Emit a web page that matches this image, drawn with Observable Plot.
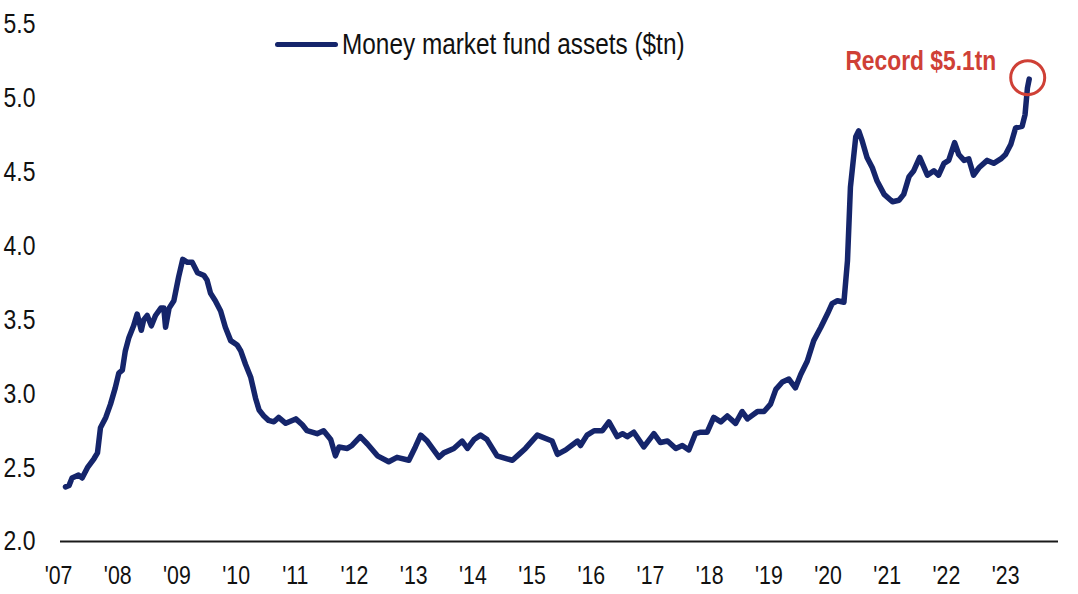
<!DOCTYPE html>
<html>
<head>
<meta charset="utf-8">
<script src="https://cdn.jsdelivr.net/npm/d3@7"></script>
<script src="https://cdn.jsdelivr.net/npm/@observablehq/plot@0.6"></script>
<style>
  html, body { margin: 0; padding: 0; background: #fff; }
  #wrap { position: relative; width: 1078px; height: 594px; font-family: "Liberation Sans", Arial, sans-serif; }
  #legend { position: absolute; left: 275px; top: 28px; height: 32px; display: flex; align-items: center; font-size: 29px; color: #111; white-space: nowrap; }
  #legend .sw { width: 63px; height: 5px; border-radius: 3px; background: #15256b; margin-right: 4px; flex: none; }
  #legend .txt { display: inline-block; transform: scaleX(0.84); transform-origin: 0 50%; }
</style>
</head>
<body>
<div id="wrap">
  <div id="chart"></div>
  <div id="legend"><span class="sw"></span><span class="txt">Money market fund assets ($tn)</span></div>
</div>
<script>
// Dates as decimal years, values in $tn
const dates = [2007.00,2007.06,2007.11,2007.22,2007.28,2007.37,2007.48,2007.54,2007.59,2007.68,2007.76,2007.84,2007.90,2007.96,
2008.01,2008.07,2008.15,2008.21,2008.28,2008.32,2008.38,2008.45,2008.52,2008.61,2008.66,2008.69,2008.75,2008.83,2008.91,2008.98,
2009.06,2009.14,2009.23,2009.34,2009.39,2009.45,2009.53,2009.62,2009.70,2009.79,2009.90,2009.96,
2010.04,2010.13,2010.21,2010.27,2010.35,2010.43,2010.52,2010.60,2010.72,2010.89,
2011.00,2011.08,2011.25,2011.36,2011.48,2011.56,2011.62,2011.76,2011.84,2011.98,
2012.10,2012.27,2012.46,2012.60,2012.80,2012.91,
2013.00,2013.11,2013.31,2013.39,2013.56,2013.70,2013.79,2013.90,
2014.01,2014.12,2014.29,2014.46,2014.55,2014.66,2014.77,2014.97,
2015.22,2015.31,2015.45,2015.65,2015.70,2015.81,2015.93,
2016.07,2016.18,2016.32,2016.41,2016.49,2016.60,2016.77,2016.94,
2017.05,2017.17,2017.31,2017.42,2017.53,2017.64,2017.73,2017.84,2017.95,
2018.07,2018.18,2018.32,2018.43,2018.52,2018.69,2018.80,2018.91,
2019.00,2019.11,2019.22,2019.33,2019.42,2019.53,2019.64,2019.76,2019.87,2019.95,
2020.04,2020.15,2020.21,2020.26,2020.35,2020.40,2020.46,2020.54,2020.63,2020.71,2020.83,2020.97,
2021.08,2021.16,2021.25,2021.33,2021.43,2021.56,2021.67,2021.75,2021.84,2021.92,
2022.02,2022.09,2022.18,2022.26,2022.34,2022.43,2022.57,2022.68,2022.80,2022.88,2022.97,
2023.05,2023.16,2023.21,2023.25,2023.28];
const assets = [2.37,2.38,2.43,2.45,2.43,2.50,2.56,2.60,2.77,2.84,2.93,3.04,3.14,3.16,
3.29,3.38,3.46,3.54,3.43,3.50,3.53,3.46,3.53,3.58,3.58,3.45,3.58,3.63,3.79,3.91,
3.89,3.89,3.82,3.80,3.77,3.68,3.63,3.56,3.45,3.36,3.33,3.29,
3.20,3.11,2.97,2.89,2.85,2.82,2.81,2.84,2.80,2.83,
2.79,2.75,2.73,2.75,2.69,2.58,2.64,2.63,2.65,2.71,
2.66,2.58,2.54,2.57,2.55,2.64,
2.72,2.68,2.57,2.60,2.63,2.68,2.63,2.69,
2.72,2.69,2.58,2.56,2.55,2.59,2.63,2.72,
2.68,2.59,2.62,2.68,2.65,2.72,2.75,
2.75,2.81,2.71,2.73,2.71,2.74,2.64,2.73,
2.67,2.68,2.63,2.65,2.62,2.73,2.74,2.74,2.84,
2.81,2.85,2.80,2.88,2.83,2.88,2.88,2.93,
3.03,3.08,3.10,3.04,3.13,3.22,3.36,3.45,3.54,3.61,
3.63,3.62,3.90,4.40,4.74,4.78,4.71,4.60,4.53,4.44,4.35,4.30,
4.31,4.35,4.47,4.51,4.60,4.48,4.51,4.48,4.56,4.58,
4.70,4.62,4.58,4.59,4.48,4.53,4.58,4.56,4.59,4.62,4.69,
4.80,4.81,4.89,5.07,5.13];
const yearTicks = [2007,2008,2009,2010,2011,2012,2013,2014,2015,2016,2017,2018,2019,2020,2021,2022,2023];
const valueTicks = [2.0,2.5,3.0,3.5,4.0,4.5,5.0,5.5];
const annotationLabel = "Record $5.1tn";

const data = dates.map((d, i) => ({date: d, value: assets[i]}));
const last = [data[data.length - 1]];

const navy = "#15256b";
const red = "#cf4036";

const chart = Plot.plot({
  width: 1078,
  height: 594,
  marginLeft: 60,
  marginRight: 20,
  marginTop: 24,
  marginBottom: 53,
  style: {fontFamily: '"Liberation Sans", Arial, sans-serif', fontSize: "26px", color: "#111", background: "transparent"},
  x: {domain: [2006.915, 2023.775], label: null},
  y: {domain: [2, 5.5], label: null},
  marks: [
    Plot.axisX({ticks: yearTicks, tickFormat: d => "'" + String(d).slice(2), tickSize: 0, tickPadding: 24, dx: -7, fontSize: 26, className: "narrow-x"}),
    Plot.axisY({ticks: valueTicks, tickFormat: d3.format(".1f"), tickSize: 0, tickPadding: 25, fontSize: 28, className: "narrow-y"}),
    Plot.ruleY([2], {stroke: "#1a1a1a", strokeWidth: 2}),
    Plot.line(data, {x: "date", y: "value", stroke: navy, strokeWidth: 5.5, strokeLinejoin: "round", strokeLinecap: "round"}),
    Plot.dot(last, {x: "date", y: "value", r: 17, stroke: red, strokeWidth: 3, fill: "none", dx: -1.5, dy: -1.5}),
    Plot.text(last, {x: "date", y: "value", text: () => annotationLabel, textAnchor: "end", dx: -33, dy: -18, fill: red, fontWeight: "bold", fontSize: 27, className: "narrow-a"})
  ]
});
document.getElementById("chart").appendChild(chart);

// Condense glyphs horizontally (the reference uses a narrow typeface)
function condense(selector, k) {
  chart.querySelectorAll(selector + " text").forEach(t => {
    const tr = t.getAttribute("transform") || "";
    t.setAttribute("transform", tr + ` scale(${k},1)`);
  });
}
condense(".narrow-x", 0.82);
condense(".narrow-y", 0.82);
condense(".narrow-a", 0.845);
</script>
</body>
</html>
